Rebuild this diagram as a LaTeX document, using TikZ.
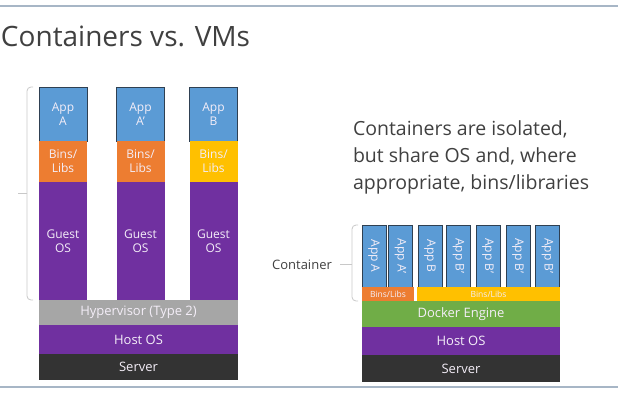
\documentclass[tikz,border=0pt]{standalone}
\usepackage{fontspec}
\setmainfont{Open Sans}
\usepackage{tikz}
\usetikzlibrary{arrows}
\definecolor{appblue}{HTML}{5B9BD5}
\definecolor{binorange}{HTML}{ED7D31}
\definecolor{binyellow}{HTML}{FFC000}
\definecolor{ospurple}{HTML}{7030A0}
\definecolor{hypgray}{HTML}{A6A6A6}
\definecolor{srvdark}{HTML}{333333}
\definecolor{dockgreen}{HTML}{70AD47}
\definecolor{boxedge}{HTML}{2F4052}
\definecolor{rulecol}{HTML}{A7B6C6}
\definecolor{textgray}{HTML}{404040}
\definecolor{bracecol}{HTML}{C8C8C8}
\definecolor{boxtext}{HTML}{F4EEF8}
\tikzset{
every node/.style={rectangle, inner sep=0pt, outer sep=0pt, text=boxtext, font=\fontsize{12}{14}\selectfont, align=center},
layer/.style={minimum height=#1, font=\fontsize{13}{15}\selectfont},
app/.style={fill=appblue, draw=boxedge, line width=1pt},
capp/.style={app, minimum width=24pt, minimum height=62pt, font=\fontsize{12}{14}\selectfont},
brace/.style={draw=bracecol, line width=0.8pt, rounded corners=4pt}
}

\begin{document}
\begin{tikzpicture}[x=1pt,y=-1pt]
\useasboundingbox (0,0) rectangle (618,394);
\draw[rulecol, line width=1.5pt] (0,6) -- (618,6);
\draw[rulecol, line width=1.5pt] (0,387) -- (618,387);

\node [text=textgray, anchor=base west, font=\fontsize{28}{34}\selectfont] (title) at (1,46) {Containers vs. VMs};

% virtual machines
\node [app, minimum width=48pt, minimum height=54pt] (appA) at (63,114) {App\\A};
\node [app, minimum width=48pt, minimum height=54pt] (appA2) at (140.5,114) {App\\A’};
\node [app, minimum width=48pt, minimum height=54pt] (appB) at (213.5,114) {App\\B};
\node [fill=binorange, minimum width=48pt, minimum height=41pt] (binsA) at (63,161.5) {Bins/\\Libs};
\node [fill=binorange, minimum width=48pt, minimum height=41pt] (binsA2) at (140.5,161.5) {Bins/\\Libs};
\node [fill=binyellow, minimum width=48pt, minimum height=41pt] (binsB) at (213.5,161.5) {Bins/\\Libs};
\node [fill=ospurple, minimum width=48pt, minimum height=118pt] (guestA) at (63,241) {Guest\\OS};
\node [fill=ospurple, minimum width=48pt, minimum height=118pt] (guestA2) at (140.5,241) {Guest\\OS};
\node [fill=ospurple, minimum width=48pt, minimum height=118pt] (guestB) at (213.5,241) {Guest\\OS};
\node [fill=hypgray, minimum width=199pt, layer=25pt] (hyp) at (138.5,312.5) {Hypervisor (Type 2)};
\node [fill=ospurple, minimum width=199pt, layer=29pt] (hostL) at (138.5,339.5) {Host OS};
\node [fill=srvdark, minimum width=199pt, layer=26pt] (srvL) at (138.5,367) {Server};

\coordinate (vmtop) at (33,87);
\coordinate (vmbot) at (33,300);
\coordinate (vmtip) at (18,193);
\draw[brace] (vmtop) -- (27,87) -- (27,300) -- (vmbot);
\draw[brace] (27,193) -- (vmtip);

% containers
\node [text=textgray, anchor=west, align=left, font=\fontsize{19.5}{27}\selectfont] (note) at (353,157)
  {Containers are isolated,\\but share OS and, where\\appropriate, bins/libraries};

\node [capp] (cA) at (374,256) {\rotatebox{-90}{App A}};
\node [capp] (cA2) at (400.5,256) {\rotatebox{-90}{App A’}};
\node [capp] (cB) at (430,256) {\rotatebox{-90}{App B}};
\node [capp] (cB1) at (458.5,256) {\rotatebox{-90}{App B’}};
\node [capp] (cB2) at (488,256) {\rotatebox{-90}{App B’}};
\node [capp] (cB3) at (518,256) {\rotatebox{-90}{App B’}};
\node [capp] (cB4) at (547.5,256) {\rotatebox{-90}{App B’}};
\node [fill=binorange, minimum width=52pt, layer=14pt, font=\fontsize{8.5}{9}\selectfont] (cbinsA) at (388,294) {Bins/Libs};
\node [fill=binyellow, minimum width=143pt, layer=14pt, font=\fontsize{8.5}{9}\selectfont] (cbinsB) at (488.5,294) {Bins/Libs};
\node [fill=dockgreen, minimum width=198pt, layer=26pt] (docker) at (461,314) {Docker Engine};
\node [fill=ospurple, minimum width=198pt, layer=28pt] (hostR) at (461,341) {Host OS};
\node [fill=srvdark, minimum width=198pt, layer=27pt] (srvR) at (461,368.5) {Server};

\node [text=textgray, font=\fontsize{13}{15}\selectfont] (contlbl) at (302,265) {Container};
\coordinate (ctop) at (358,225);
\coordinate (cbot) at (358,301);
\coordinate (ctip) at (340,264);
\draw[brace] (ctop) -- (352,225) -- (352,301) -- (cbot);
\draw[brace] (352,264) -- (ctip);
\end{tikzpicture}
\end{document}
